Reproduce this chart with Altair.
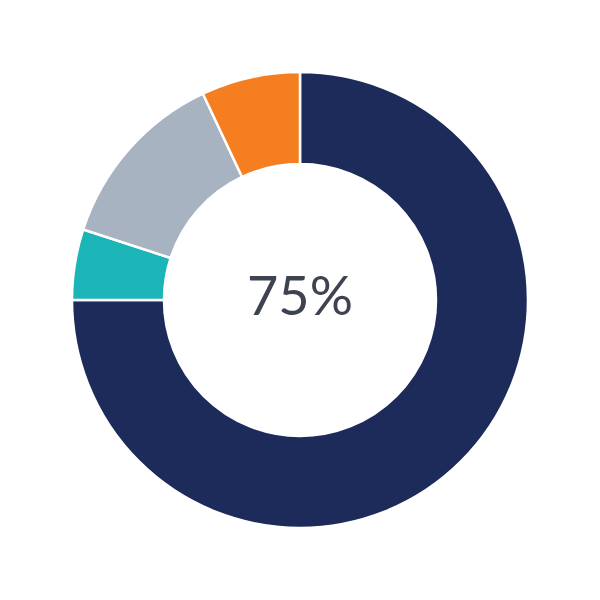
import altair as alt
import pandas as pd

categories = ["A", "B", "C", "D"]
values = [75, 5, 13, 7]
colors = ["#1c2b5a", "#1bb5b7", "#a8b3c1", "#f47e20"]
center_label = ["75%"]

df = pd.DataFrame({"cat": categories, "value": values, "order": list(range(len(categories)))})

arcs = alt.Chart(df).mark_arc(outerRadius=228, innerRadius=136, stroke="white", strokeWidth=2.5).encode(
    theta=alt.Theta("value:Q", stack=True),
    color=alt.Color("cat:N", scale=alt.Scale(domain=categories, range=colors), legend=None),
    order=alt.Order("order:Q"),
)

text = alt.Chart(pd.DataFrame({"t": center_label})).mark_text(
    font="Lato", fontSize=54, fontWeight=400, color="#3d4350", baseline="middle", align="center"
).encode(text="t:N", x=alt.value(292), y=alt.value(291))

chart = alt.layer(arcs, text).properties(width=584, height=584, padding=0).configure_view(stroke=None)

chart.save("out.html", embed_options={"renderer": "svg", "actions": False})
